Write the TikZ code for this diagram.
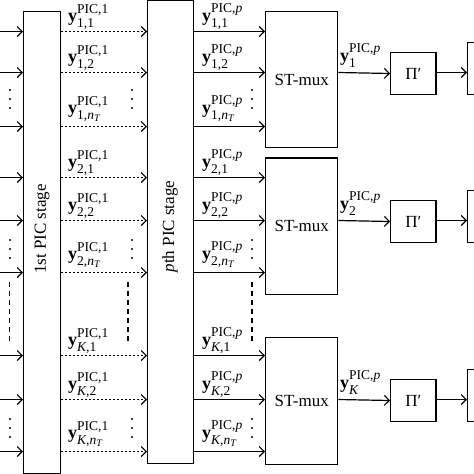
\documentclass[tikz,border=0pt]{standalone}
\usepackage{fontspec}
\setmainfont{Liberation Serif}
\usepackage{amsmath}
\DeclareMathSizes{18}{18}{13.5}{10}
\usetikzlibrary{arrows.meta}
\begin{document}
\begin{tikzpicture}[x=1pt,y=-1pt,
  blk/.style={draw, line width=1.3pt, inner sep=0pt, fill=white},
  arr/.style={line width=1.2pt, -{Straight Barb[length=5pt,width=10pt,line width=1.1pt]}},
  dotarr/.style={arr, dash pattern=on 1.3pt off 2.7pt},
  dashln/.style={line width=1.2pt, dash pattern=on 5pt off 4pt},
  lab/.style={inner sep=0pt, font=\fontsize{18}{20}\selectfont},
  big/.style={font=\fontsize{17}{20}\selectfont},
  vdot/.style={circle, fill=black, inner sep=0pt, minimum size=2.4pt}]
\useasboundingbox (0,0) rectangle (474,474);
% PIC stages
\node[blk, anchor=north west, minimum width=37pt, minimum height=462.5pt] (s1) at (23,10.5) {};
\node[blk, anchor=north west, minimum width=46pt, minimum height=463pt] (s2) at (147,0) {};
\node[big, rotate=90] (t1) at (42,229) {1st PIC stage};
\node[big, rotate=90] (t2) at (170,226.5) {\textit{p}th PIC stage};
\foreach \g/\ra/\rb/\rc/\k/\mt/\mb/\dy in {1/31.5/72.5/126.5/1/10.7/147/90, 2/177.5/220.5/272.5/2/157.3/294/240, 3/355.5/399.5/451.5/\textit{K}/336.7/464/419}{
  \coordinate (ia\g) at (0,\ra);
  \coordinate (ib\g) at (0,\rb);
  \coordinate (ic\g) at (0,\rc);
  \node[blk, anchor=north west, minimum width=72pt, minimum height={\mb-\mt}, big] (m\g) at (265,\mt) {};
  \node[big] (mt\g) at (m\g.center) {ST-mux};
  \node[blk, big, minimum width=45.3pt, minimum height=42pt] (pi\g) at (413.4,\rb+1) {Π′};
  \node[blk, anchor=north west, minimum width=30pt, minimum height=52.5pt] (o\g) at (467,\rb-31) {};
  \foreach \r in {a,b,c}{
    \draw[arr] (i\r\g) -- (i\r\g -| s1.west);
    \draw[dotarr] (i\r\g -| s1.east) -- (i\r\g -| s2.west);
    \draw[arr] (i\r\g -| s2.east) -- (i\r\g -| m\g.west);
  }
  \draw[arr] (ib\g -| m\g.east) -- (pi\g.west);
  \draw[arr] (ib\g -| pi\g.east) -- (ib\g -| o\g.west);
  % labels
  \node[lab, anchor=base west] (la\g) at (68,\ra-10) {$\textbf{y}^{\text{PIC,1}}_{\text{\k,1}}$};
  \node[lab, anchor=base west] (lb\g) at (68,\rb-10) {$\textbf{y}^{\text{PIC,1}}_{\text{\k,2}}$};
  \node[lab, anchor=base west] (lc\g) at (68,\rc-13) {$\textbf{y}^{\text{PIC,1}}_{\text{\k,}\textit{n}_{\textit{T}}}$};
  \node[lab, anchor=base west] (pa\g) at (202,\ra-10) {$\textbf{y}^{\text{PIC,\textit{p}}}_{\text{\k,1}}$};
  \node[lab, anchor=base west] (pb\g) at (202,\rb-10) {$\textbf{y}^{\text{PIC,\textit{p}}}_{\text{\k,2}}$};
  \node[lab, anchor=base west] (pc\g) at (202,\rc-13) {$\textbf{y}^{\text{PIC,\textit{p}}}_{\text{\k,}\textit{n}_{\textit{T}}}$};
  \node[lab, anchor=base west] (q\g) at (340,\rb-11) {$\textbf{y}^{\text{PIC,\textit{p}}}_{\text{\k}}$};
  % vertical dots
  \foreach \x in {10,132,252}{
    \node[vdot] at (\x,\dy) {};
    \node[vdot] at (\x,\dy+9) {};
    \node[vdot] at (\x,\dy+18) {};
  }
}
% dashed continuation lines
\foreach \x/\n in {9.3/d1,128/d2,252/d3}{
  \coordinate (\n t) at (\x,282);
  \coordinate (\n b) at (\x,343);
  \draw[dashln] (\n t) -- (\n b);
}
\end{tikzpicture}
\end{document}
